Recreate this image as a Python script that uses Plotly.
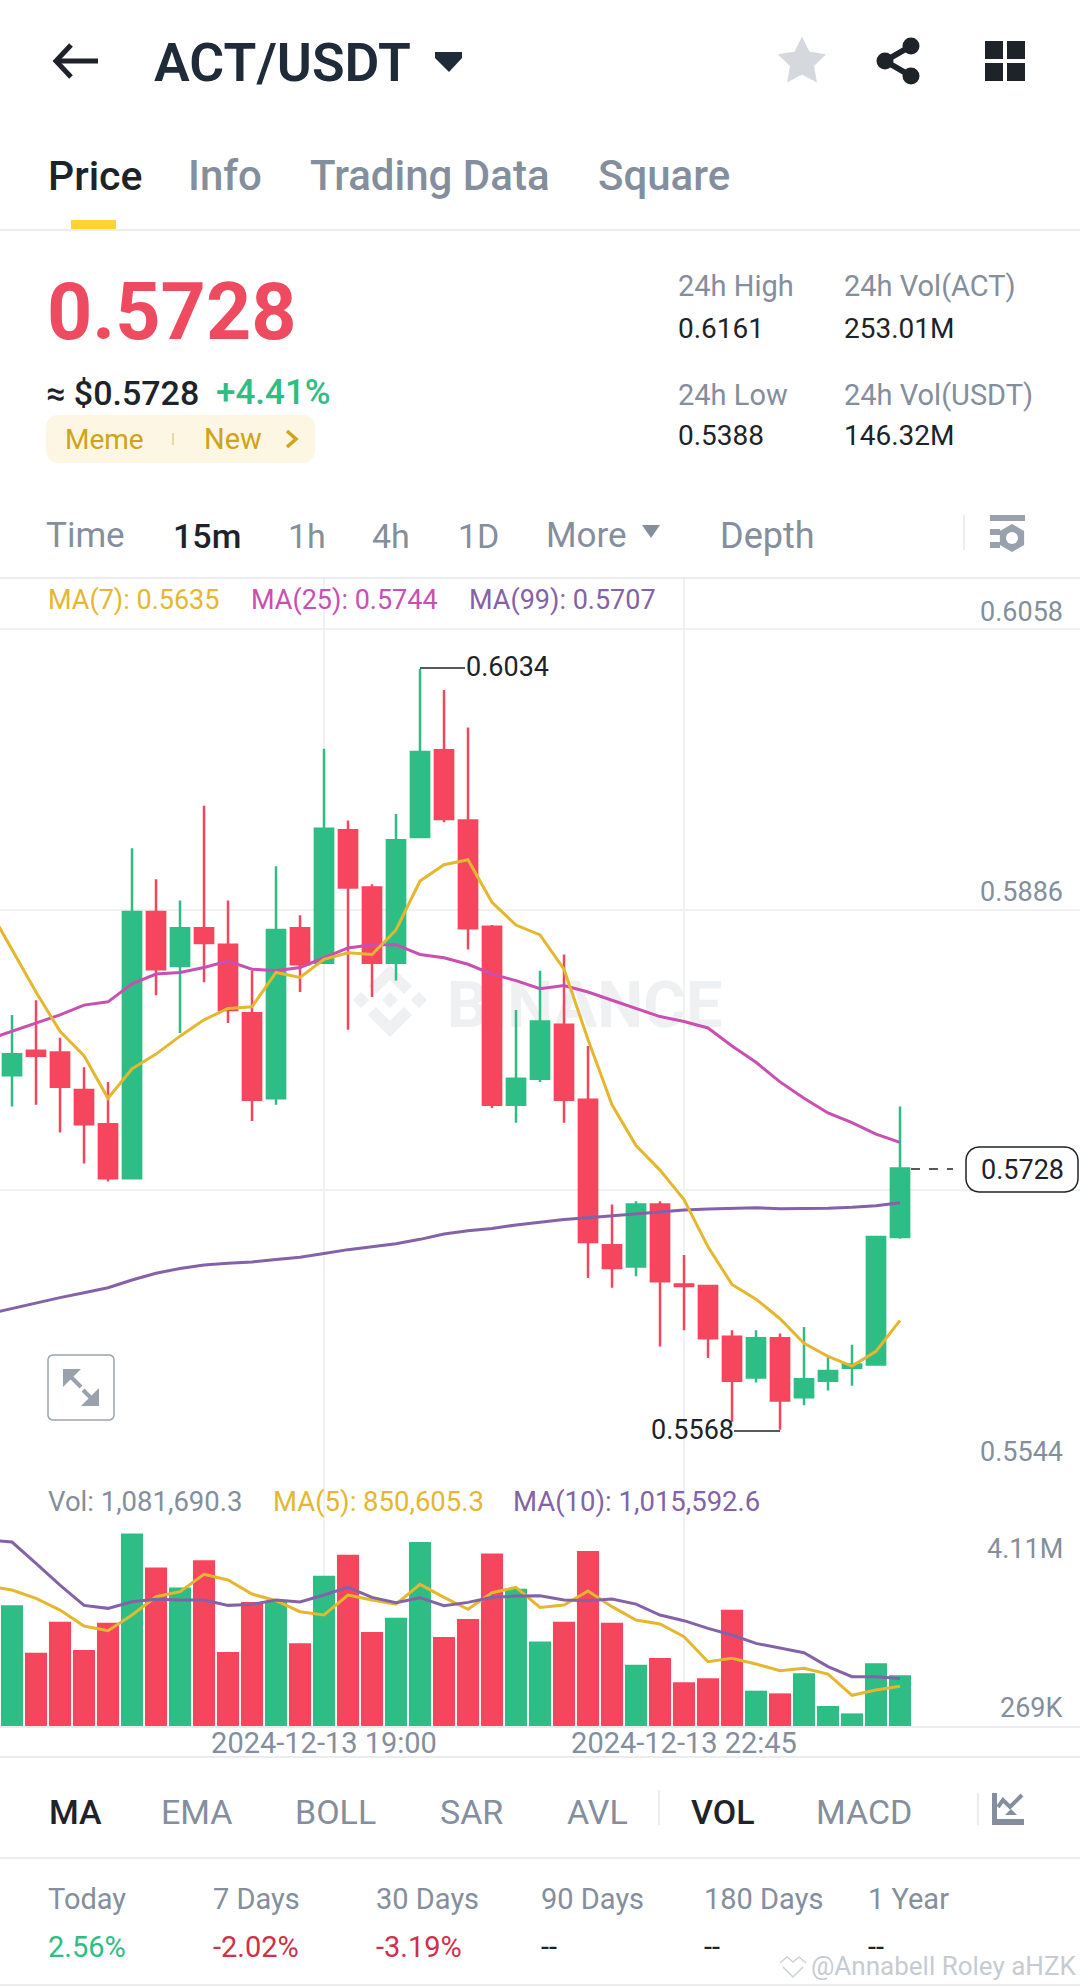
import numpy as np
import pandas as pd
import plotly.graph_objects as go

W = 1080
H = 1987
FONT = "Roboto"
DARK = "#1e2329"
GRAY = "#848e9c"
LINE = "#eaecef"
GRID = "#f0f1f3"
UP = "#2ebd85"
DOWN = "#f6465d"
YELLOW = "#e5b72f"
MAGENTA = "#c94fb1"
PURPLE = "#8462a8"
TAG = "#cfa31a"

# 15m candles, 15:45 -> 01:00
opens = [0.5785, 0.5800, 0.5799, 0.5776, 0.5755, 0.5722, 0.5885, 0.5852, 0.5875, 0.5865,
         0.5823, 0.5771, 0.5875, 0.5854, 0.5935, 0.5900, 0.5854, 0.5931, 0.5984, 0.5941,
         0.5876, 0.5767, 0.5783, 0.5816, 0.5770, 0.5681, 0.5668, 0.5706, 0.5657, 0.5656,
         0.5625, 0.5600, 0.5624, 0.5588, 0.5598, 0.5606, 0.5608, 0.5686]
highs = [0.5822, 0.5831, 0.5808, 0.5790, 0.5781, 0.5924, 0.5905, 0.5892, 0.5950, 0.5892,
         0.5849, 0.5913, 0.5883, 0.5985, 0.5941, 0.5902, 0.5945, 0.6034, 0.6021, 0.5998,
         0.5877, 0.5825, 0.5849, 0.5859, 0.5803, 0.5706, 0.5708, 0.5708, 0.5675, 0.5656,
         0.5629, 0.5629, 0.5627, 0.5631, 0.5613, 0.5620, 0.5686, 0.5766]
lows = [0.5766, 0.5767, 0.5750, 0.5731, 0.5720, 0.5722, 0.5834, 0.5811, 0.5842, 0.5817,
        0.5757, 0.5767, 0.5836, 0.5854, 0.5813, 0.5833, 0.5843, 0.5931, 0.5940, 0.5862,
        0.5765, 0.5756, 0.5781, 0.5756, 0.5661, 0.5655, 0.5662, 0.5619, 0.5629, 0.5612,
        0.5573, 0.5597, 0.5568, 0.5583, 0.5592, 0.5595, 0.5608, 0.5685]
closes = [0.5798, 0.5797, 0.5778, 0.5755, 0.5722, 0.5885, 0.5850, 0.5875, 0.5866, 0.5825,
          0.5770, 0.5874, 0.5853, 0.5936, 0.5900, 0.5854, 0.5929, 0.5983, 0.5942, 0.5875,
          0.5767, 0.5783, 0.5818, 0.5770, 0.5683, 0.5667, 0.5706, 0.5659, 0.5656, 0.5624,
          0.5598, 0.5624, 0.5586, 0.5599, 0.5604, 0.5608, 0.5686, 0.5728]
volumes = [2576000, 1566000, 2227000, 1622000, 2206000, 4110000, 3387000, 2960000, 3537000, 1580000,
           2647000, 2647000, 1765000, 3209000, 3658000, 2007000, 2313000, 3928000, 1900000, 2284000,
           3686000, 2932000, 1807000, 2227000, 3736000, 2206000, 1309000, 1452000, 932000, 1018000,
           2484000, 754000, 697000, 1124000, 427000, 269000, 1338000, 1081690]

# moving averages start one bar earlier, off the left edge
ma7 = [0.5888, 0.5862, 0.5836, 0.5812, 0.5797, 0.5771, 0.5789, 0.5798, 0.5809, 0.5819,
       0.5826, 0.5827, 0.5848, 0.5845, 0.5856, 0.5860, 0.5859, 0.5874, 0.5904, 0.5914,
       0.5917, 0.5891, 0.5877, 0.5871, 0.5850, 0.5807, 0.5767, 0.5742, 0.5727, 0.5709,
       0.5680, 0.5657, 0.5648, 0.5636, 0.5621, 0.5613, 0.5607, 0.5616, 0.5635]
ma25 = [0.5807, 0.5812, 0.5817, 0.5822, 0.5828, 0.5830, 0.5841, 0.5847, 0.5848, 0.5851,
        0.5855, 0.5850, 0.5849, 0.5851, 0.5857, 0.5863, 0.5865, 0.5865, 0.5859, 0.5857,
        0.5853, 0.5847, 0.5843, 0.5838, 0.5840, 0.5836, 0.5831, 0.5826, 0.5821, 0.5818,
        0.5814, 0.5803, 0.5793, 0.5781, 0.5771, 0.5762, 0.5756, 0.5749, 0.5744]
ma99 = [0.56389, 0.56423, 0.56458, 0.56489, 0.56519, 0.56550, 0.56597, 0.56638, 0.56668, 0.56689,
        0.56699, 0.56707, 0.56723, 0.56736, 0.56760, 0.56783, 0.56801, 0.56819, 0.56846, 0.56879,
        0.56899, 0.56913, 0.56934, 0.56950, 0.56968, 0.56979, 0.56991, 0.57005, 0.57017, 0.57026,
        0.57032, 0.57036, 0.57040, 0.57034, 0.57034, 0.57036, 0.57042, 0.57052, 0.57070]
vol_ma5 = [2989000, 2903000, 2725000, 2476000, 2135000, 2035000, 2370000, 2761000, 2868000, 3238000,
           3117000, 2818000, 2676000, 2441000, 2370000, 2797000, 2690000, 2604000, 3024000, 2747000,
           2491000, 2846000, 2960000, 2533000, 2583000, 2882000, 2548000, 2263000, 2178000, 1907000,
           1373000, 1445000, 1324000, 1181000, 1231000, 1110000, 655000, 769000, 850605]
vol_ma10 = [3971000, 3928000, 3473000, 3010000, 2576000, 2512000, 2654000, 2704000, 2690000, 2690000,
            2576000, 2597000, 2690000, 2647000, 2797000, 2960000, 2747000, 2633000, 2740000, 2569000,
            2640000, 2747000, 2775000, 2782000, 2690000, 2676000, 2711000, 2604000, 2370000, 2249000,
            2085000, 1943000, 1765000, 1658000, 1566000, 1267000, 1053000, 1053000, 1015593]

price_ticks = [0.6058, 0.5886, 0.5715, 0.5544]
time_ticks = ["2024-12-13 19:00", "2024-12-13 22:45"]

times = pd.date_range("2024-12-13 15:30", periods=39, freq="15min")
bar_times = times[1:]
bar_colors = [UP if c >= o else DOWN for o, c in zip(opens, closes)]


def fx(x):
    return x / W


def fy(y):
    return 1 - y / H


annots = []
shapes = []


def label(x, y, text, size, color=DARK, anchor="left", weight=400, yanchor="middle"):
    annots.append(dict(x=fx(x), y=fy(y), xref="paper", yref="paper", text=text, showarrow=False,
                       xanchor=anchor, yanchor=yanchor, borderpad=0,
                       font=dict(family=FONT, size=size, color=color, weight=weight)))


def rule(x0, y0, x1, y1, color=LINE, width=2, dash="solid"):
    shapes.append(dict(type="line", xref="paper", yref="paper", x0=fx(x0), x1=fx(x1), y0=fy(y0), y1=fy(y1),
                       line=dict(color=color, width=width, dash=dash)))


def poly(points, color, closed=True, width=0, layer="above", fill=None):
    path = "M " + " L ".join(f"{fx(a):.5f} {fy(b):.5f}" for a, b in points) + (" Z" if closed else "")
    shapes.append(dict(type="path", xref="paper", yref="paper", path=path, layer=layer,
                       fillcolor=(fill or color) if closed else "rgba(0,0,0,0)",
                       line=dict(color=color, width=width)))


def box(x0, y0, x1, y1, color):
    poly([(x0, y0), (x1, y0), (x1, y1), (x0, y1)], color)


def round_box(x0, y0, x1, y1, r, fill, border=None, width=0):
    a = np.linspace(0, np.pi / 2, 6)
    pts = [(x1 - r + r * np.sin(t), y0 + r - r * np.cos(t)) for t in a]
    pts += [(x1 - r + r * np.cos(t), y1 - r + r * np.sin(t)) for t in a]
    pts += [(x0 + r - r * np.sin(t), y1 - r + r * np.cos(t)) for t in a]
    pts += [(x0 + r - r * np.cos(t), y0 + r - r * np.sin(t)) for t in a]
    path = "M " + " L ".join(f"{fx(p):.5f} {fy(q):.5f}" for p, q in pts) + " Z"
    shapes.append(dict(type="path", xref="paper", yref="paper", path=path, fillcolor=fill,
                       line=dict(color=border or fill, width=width)))


def dot(cx, cy, r, color, fill=None, width=0):
    shapes.append(dict(type="circle", xref="paper", yref="paper", x0=fx(cx - r), x1=fx(cx + r),
                       y0=fy(cy + r), y1=fy(cy - r), fillcolor=fill or color,
                       line=dict(color=color, width=width)))


# header
poly([(71, 45), (56, 61), (71, 77)], DARK, closed=False, width=5)
rule(57, 61, 98, 61, DARK, 5)
label(153, 62, "ACT/USDT", 53.5, "#202b3a", weight=600)
poly([(435, 52), (462, 52), (462, 58), (449, 72), (435, 58)], "#202b3a")
star = [(802 + (22 if k % 2 == 0 else 11) * np.sin(k * np.pi / 5),
         62 - (22 if k % 2 == 0 else 11) * np.cos(k * np.pi / 5)) for k in range(10)]
poly(star, "#d5d8dc", width=3)
rule(911, 46, 885, 61, DARK, 6)
rule(885, 61, 911, 76, DARK, 6)
dot(911, 46, 8.5, DARK)
dot(885, 61, 8.5, DARK)
dot(911, 76, 8.5, DARK)
box(985, 41, 1003, 59, DARK)
box(1007, 41, 1025, 59, DARK)
box(985, 63, 1003, 81, DARK)
box(1007, 63, 1025, 81, DARK)

# tabs
label(47, 176, "Price", 41, DARK, weight=500)
label(187, 176, "Info", 42, GRAY, weight=500)
label(309, 176, "Trading Data", 42, GRAY, weight=500)
label(597, 176, "Square", 42, GRAY, weight=500)
box(71, 220, 116, 229, "#fcd535")
rule(0, 230, W, 230)

# price block
label(46, 312, "0.5728", 79, "#ee4a60", weight=700)
label(45, 393, "≈ $0.5728", 34, DARK, weight=500)
label(215, 393, "+4.41%", 35, UP, weight=500)
round_box(46, 415, 315, 463, 12, "#fdf6e3")
label(64, 439, "Meme", 28, TAG)
rule(173, 433, 173, 445, "#e9d9a8", 2)
label(203, 439, "New", 29, TAG)
poly([(287, 431), (296, 439), (287, 447)], TAG, closed=False, width=3.5)

label(677, 286, "24h High", 29, GRAY)
label(677, 328, "0.6161", 28, DARK)
label(677, 395, "24h Low", 29, GRAY)
label(677, 436, "0.5388", 28, DARK)
label(843, 286, "24h Vol(ACT)", 29, GRAY)
label(843, 328, "253.01M", 28, DARK)
label(843, 395, "24h Vol(USDT)", 29, GRAY)
label(843, 436, "146.32M", 28, DARK)

# period row
label(45, 536, "Time", 35, GRAY)
label(172, 536, "15m", 34, DARK, weight=500)
label(287, 536, "1h", 34, GRAY)
label(371, 536, "4h", 34, GRAY)
label(457, 536, "1D", 34, GRAY)
label(545, 536, "More", 35, GRAY)
poly([(642, 525), (660, 525), (651, 538)], GRAY)
label(719, 536, "Depth", 36, GRAY)
rule(964, 515, 964, 550)
box(990, 515, 1025, 521, "#99a1ac")
box(990, 529, 1000, 535, "#99a1ac")
box(990, 542, 1000, 548, "#99a1ac")
hexagon = [(1012 + 14 * np.sin(k * np.pi / 3), 538 - 14 * np.cos(k * np.pi / 3)) for k in range(6)]
poly(hexagon, "#99a1ac")
dot(1012, 538, 6, "white")
rule(0, 578, W, 578)

# chart legends
label(47, 600, "MA(7): 0.5635", 27, YELLOW)
label(250, 600, "MA(25): 0.5744", 27, MAGENTA)
label(468, 600, "MA(99): 0.5707", 27, PURPLE)

# axis labels
label(1064, 612, "0.6058", 27, GRAY, "right")
label(1064, 892, "0.5886", 27, GRAY, "right")
label(1064, 1452, "0.5544", 27, GRAY, "right")

# high / low / last marks
label(465, 667, "0.6034", 27, DARK)
rule(420, 668, 465, 668, DARK, 1.5)
label(735, 1430, "0.5568", 27, DARK, "right")
rule(734, 1431, 780, 1431, DARK, 1.5)
rule(911, 1169, 953, 1169, DARK, 1.5, "dash")
round_box(966, 1147, 1078, 1192, 13, "white", DARK, 1.5)
label(1022, 1170, "0.5728", 27, DARK, "center")

# expand button
round_box(48, 1355, 114, 1420, 5, "white", "#9ba3ad", 1.5)
poly([(63, 1369), (81, 1369), (63, 1387)], "#99a1ac")
poly([(99, 1406), (81, 1406), (99, 1388)], "#99a1ac")
rule(71, 1377, 81, 1387, "#99a1ac", 4)
rule(83, 1390, 91, 1398, "#99a1ac", 4)

# watermark
WM = "#eef0f1"
for cx in [361, 390, 419]:
    poly([(cx - 8, 1000), (cx, 992), (cx + 8, 1000), (cx, 1008)], WM, layer="below")
poly([(390, 965), (412, 986), (404, 994), (390, 980), (376, 994), (368, 986)], WM, layer="below")
poly([(390, 1037), (412, 1015), (404, 1007), (390, 1021), (376, 1007), (368, 1015)], WM, layer="below")
shapes.append(dict(type="rect", xref="paper", yref="paper", x0=fx(443), x1=fx(726), y0=fy(1025), y1=fy(975),
                   layer="below", line=dict(width=0), fillcolor="rgba(0,0,0,0)",
                   label=dict(text="BINANCE", textposition="middle center",
                              font=dict(family=FONT, size=65, color=WM, weight=700))))

# volume legends
label(47, 1501, "Vol: 1,081,690.3", 27.5, GRAY)
label(272, 1501, "MA(5): 850,605.3", 27.5, YELLOW)
label(512, 1501, "MA(10): 1,015,592.6", 27.5, PURPLE)
label(1064, 1549, "4.11M", 27, GRAY, "right")
label(1064, 1708, "269K", 27, GRAY, "right")
rule(0, 1757, W, 1757)

# indicator row
for x, name, color, weight in [(48, "MA", DARK, 500), (160, "EMA", GRAY, 400), (294, "BOLL", GRAY, 400),
                               (439, "SAR", GRAY, 400), (566, "AVL", GRAY, 400), (690, "VOL", DARK, 500),
                               (815, "MACD", GRAY, 400)]:
    label(x, 1812, name, 34, color, weight=weight)
rule(659, 1790, 659, 1825)
rule(978, 1793, 978, 1825)
box(992, 1793, 997, 1825, GRAY)
box(992, 1819, 1024, 1825, GRAY)
poly([(998, 1807), (1003, 1800), (1010, 1807), (1022, 1795)], GRAY, closed=False, width=4)
poly([(1005, 1815), (1017, 1815), (1011, 1809)], GRAY)
rule(0, 1858, W, 1858)

# performance row
period_names = ["Today", "7 Days", "30 Days", "90 Days", "180 Days", "1 Year"]
period_values = ["2.56%", "-2.02%", "-3.19%", "--", "--", "--"]
period_colors = [UP, "#cf304a", "#cf304a", DARK, DARK, DARK]
period_x = [47, 212, 375, 540, 703, 867]
for x, name, value, color in zip(period_x, period_names, period_values, period_colors):
    label(x, 1899, name, 29, GRAY)
    label(x, 1947, value, 29, color)
rule(0, 1985, W, 1985)

# source watermark
label(810, 1966, "@Annabell Roley aHZK", 26, "#c6cbd1")
poly([(780, 1963), (787, 1957), (793, 1962), (799, 1957), (806, 1963)], "#cdd1d6", closed=False, width=1.5)
poly([(783, 1967), (793, 1977), (803, 1967)], "#cdd1d6", closed=False, width=1.5)

fig = go.Figure()
fig.add_trace(go.Candlestick(
    x=bar_times, open=opens, high=highs, low=lows, close=closes,
    increasing=dict(line=dict(color=UP, width=2.5), fillcolor=UP),
    decreasing=dict(line=dict(color=DOWN, width=2.5), fillcolor=DOWN),
    whiskerwidth=0, hoverinfo="skip", showlegend=False, xaxis="x", yaxis="y",
))
for values, color in [(ma99, PURPLE), (ma25, MAGENTA), (ma7, YELLOW)]:
    fig.add_trace(go.Scatter(x=times, y=values, mode="lines", line=dict(color=color, width=3),
                             hoverinfo="skip", showlegend=False, xaxis="x", yaxis="y"))
fig.add_trace(go.Bar(x=bar_times, y=volumes, marker=dict(color=bar_colors, line=dict(width=0)),
                     hoverinfo="skip", showlegend=False, xaxis="x2", yaxis="y2"))
for values, color in [(vol_ma5, YELLOW), (vol_ma10, PURPLE)]:
    fig.add_trace(go.Scatter(x=times, y=values, mode="lines", line=dict(color=color, width=3),
                             hoverinfo="skip", showlegend=False, xaxis="x2", yaxis="y2"))

x_range = ["2024-12-13 15:37:30", "2024-12-14 02:52:30"]
fig.update_layout(
    width=W,
    height=H,
    margin=dict(l=0, r=0, t=0, b=0),
    paper_bgcolor="white",
    plot_bgcolor="white",
    showlegend=False,
    boxgap=0.24,
    boxgroupgap=0,
    bargap=0.08,
    annotations=annots,
    shapes=shapes,
    font=dict(family=FONT),
    xaxis=dict(domain=[0, 1], range=x_range, type="date", anchor="y", rangeslider=dict(visible=False),
               tickmode="array", tickvals=time_ticks, showticklabels=False, showgrid=True,
               gridcolor=GRID, gridwidth=2, zeroline=False, ticks=""),
    yaxis=dict(domain=[fy(1469), fy(578)], range=[0.5544, 0.60895], anchor="x", side="right",
               tickmode="array", tickvals=price_ticks, showticklabels=False, showgrid=True,
               gridcolor=GRID, gridwidth=2, zeroline=False, ticks=""),
    xaxis2=dict(domain=[0, 1], matches="x", type="date", anchor="y2", tickmode="array", tickvals=time_ticks,
                tickformat="%Y-%m-%d %H:%M", tickfont=dict(family=FONT, size=29, color=GRAY),
                ticklabelstandoff=-10, showgrid=True, gridcolor=GRID, gridwidth=2, zeroline=False, ticks="",
                showline=True, linecolor=LINE, linewidth=2),
    yaxis2=dict(domain=[fy(1726), fy(1469)], range=[0, 5488000], anchor="x2", side="right",
                showticklabels=False, showgrid=False, zeroline=False, ticks=""),
)

fig.write_html("out.html", config={"displayModeBar": False},
               post_script="document.body.style.margin='0';document.body.style.overflow='hidden';")
